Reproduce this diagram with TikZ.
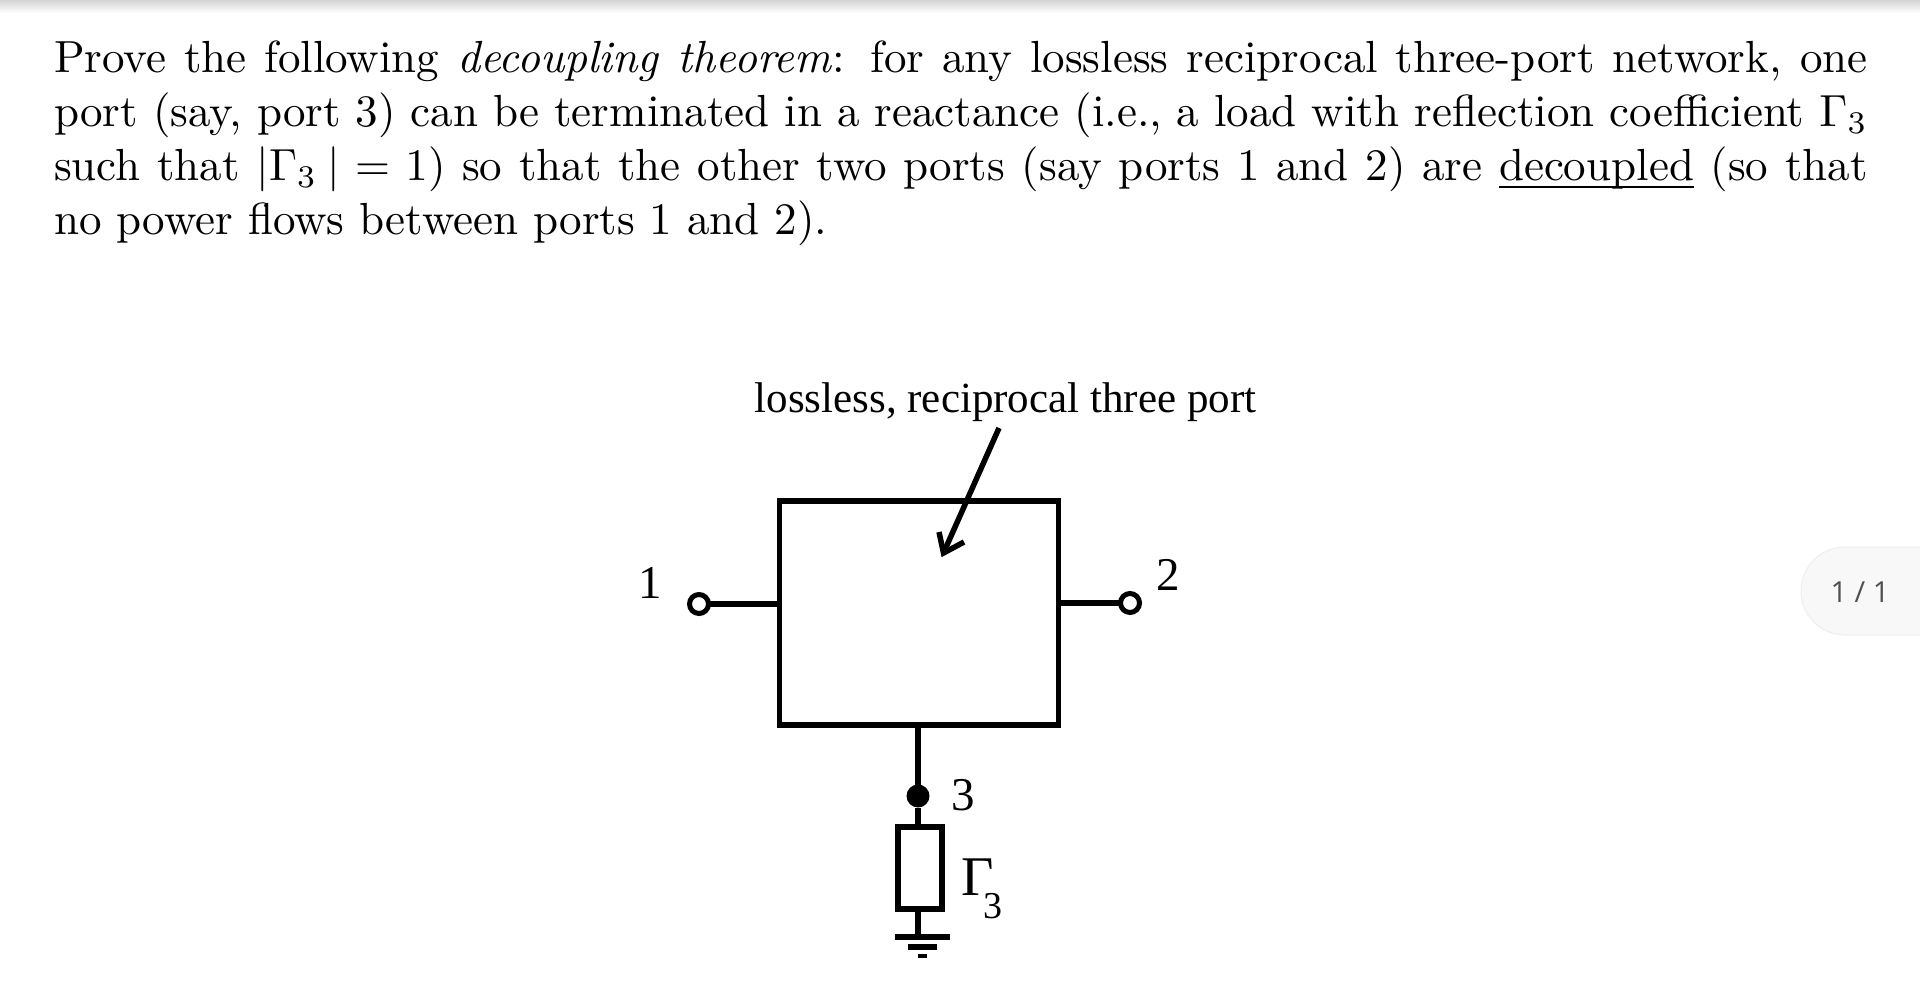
\documentclass[tikz,border=0pt]{standalone}
\usepackage{graphicx}
\usepackage{fontspec}
\newfontfamily\figfont{Liberation Serif}
\newfontfamily\badgefont{Open Sans}
\definecolor{badgefill}{HTML}{F8F8F8}
\definecolor{badgeline}{HTML}{EEEEEE}
\definecolor{badgetext}{HTML}{505050}
\definecolor{shadowgrey}{HTML}{D4D4D4}
\tikzset{
  wire/.style={line width=5.5pt},
  porthole/.style={circle,draw,line width=5pt,fill=white,minimum size=19pt,inner sep=0pt,outer sep=0pt},
  portdot/.style={circle,fill=black,minimum size=23pt,inner sep=0pt,outer sep=0pt},
  figlabel/.style={inner sep=0pt,anchor=base,font=\figfont\fontsize{47}{50}\selectfont},
  groundbar/.style={fill=black,inner sep=0pt,outer sep=0pt,minimum height=5.5pt},
}
\begin{document}
\begin{tikzpicture}[x=1pt,y=-1pt]
\useasboundingbox (0,0) rectangle (1920,987);
\fill[white] (0,0) rectangle (1920,987);
\shade[top color=shadowgrey,bottom color=white] (0,0) rectangle (1920,13);
% statement
\node[anchor=north west,inner sep=0pt] (statement) at (54,34.5) {\scalebox{4.5}{\parbox[t]{403pt}{%
\fontsize{10}{12}\selectfont\lineskiplimit=-100pt\tolerance=9999\hbadness=10000\parindent=0pt
\strut Prove the following \textit{decoupling theorem}: for any lossless reciprocal three-port network, one\linebreak
port (say, port 3) can be terminated in a reactance (i.e., a load with reflection coefficient $\Gamma_3$\linebreak
such that $|\Gamma_3\mkern4mu|=1$) so that the other two ports (say ports 1 and 2) are $\underline{\smash{\mbox{decoupled}}}$ (so that\linebreak
no power flows between ports 1 and 2).\strut}}};
% network
\node[draw,line width=5.4pt,minimum width=279pt,minimum height=224pt,inner sep=0pt,outer sep=0pt] (box) at (919,613) {};
\node[porthole] (p1) at (699,604) {};
\node[porthole] (p2) at (1130,603) {};
\node[portdot] (p3) at (918,796) {};
\node[draw,line width=5.5pt,minimum width=44pt,minimum height=82pt,inner sep=0pt,outer sep=0pt] (load) at (920,868) {};
\draw[wire] (p1) -- (p1 -| box.west);
\draw[wire] (p2) -- (p2 -| box.east);
\draw[wire] (p3 |- box.south) -- (p3);
\draw[wire] (p3) -- (p3 |- load.north);
\node[groundbar,minimum width=55pt] (g1) at (922.5,937) {};
\node[groundbar,minimum width=29pt] (g2) at (922.5,947) {};
\node[groundbar,minimum width=9pt,minimum height=4.5pt] (g3) at (922.5,956) {};
\draw[wire] (p3 |- load.south) -- (p3 |- g1.north);
% labels
\node[figlabel] (l1) at (650,598) {1};
\node[figlabel] (l2) at (1168,590) {2};
\node[figlabel] (l3) at (963,810) {3};
\node[inner sep=0pt,anchor=base west,font=\figfont\fontsize{56}{58}\selectfont] (gam) at (961,895) {Γ};
\node[inner sep=0pt,anchor=base,font=\figfont\fontsize{38}{40}\selectfont] (gamsub) at (993,918) {3};
\node[inner sep=0pt,anchor=base,font=\figfont\fontsize{43}{48}\selectfont] (title) at (1005.5,412) {lossless, reciprocal three port};
% arrow
\coordinate (astart) at (999,428);
\coordinate (atip) at (943.5,553);
\coordinate (abarbl) at (939,532);
\coordinate (abarbr) at (964,542);
\draw[wire] (astart) -- (atip);
\draw[wire,line join=miter] (abarbl) -- (atip) -- (abarbr);
% badge
\draw[badgeline,fill=badgefill,line width=1pt,rounded corners=44pt] (1801,547) -- (1980,547) -- (1980,635) -- (1801,635) -- cycle;
\node[text=badgetext,inner sep=0pt,font=\badgefont\fontsize{29}{32}\selectfont] (badge) at (1860,592) {1 / 1};
\end{tikzpicture}
\end{document}
